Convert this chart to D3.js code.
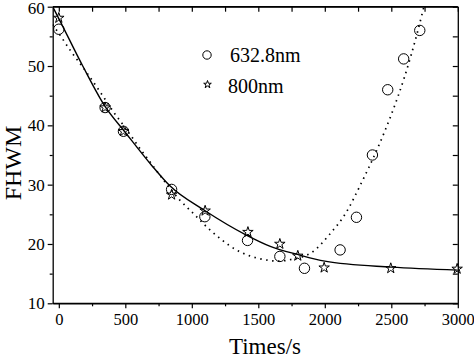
<!DOCTYPE html>
<html><head><meta charset="utf-8">
<script src="https://cdn.jsdelivr.net/npm/d3@7"></script>
<style>body{margin:0;background:#fff}svg{display:block}text{font-family:"Liberation Serif","Times New Roman",serif;fill:#000}</style>
</head><body><svg id="c" width="474" height="359"></svg>
<script>
// ---- data ----
const times632 = [0, 348, 486, 848, 1098, 1419, 1662, 1847, 2115, 2238, 2358, 2473, 2593, 2714];
const fwhm632  = [56.2, 43.0, 39.0, 29.2, 24.6, 20.6, 17.9, 15.9, 19.0, 24.5, 35.0, 46.0, 51.2, 56.0];
const times800 = [0, 348, 486, 848, 1100, 1422, 1662, 1797, 1995, 2496, 2995];
const fwhm800  = [58.1, 43.0, 39.0, 28.3, 25.6, 22.0, 20.0, 18.0, 16.0, 15.9, 15.8];
const fitSolidX = [-46, 0, 180, 350, 500, 700, 835, 1100, 1410, 1590, 1800, 2000, 2500, 3000];
const fitSolidY = [60.0, 58.0, 50.0, 43.1, 38.8, 33.2, 29.8, 25.6, 21.5, 19.6, 18.2, 17.1, 16.1, 15.6];
const fitDotX = [-46, 0, 100, 200, 300, 410, 500, 600, 700, 800, 910, 1000, 1135, 1225, 1335, 1435, 1560, 1650, 1750, 1910, 2035, 2160, 2275, 2400, 2500, 2600, 2700, 2745];
const fitDotY = [57.0, 55.5, 52.2, 49.2, 46.0, 42.3, 39.6, 36.4, 33.4, 30.4, 27.4, 25.4, 22.4, 20.7, 19.0, 18.0, 17.3, 17.1, 17.4, 18.7, 21.6, 25.3, 30.3, 36.3, 41.8, 48.2, 56.0, 60.0];
const xTicks = [0, 500, 1000, 1500, 2000, 2500, 3000];
const yTicks = [10, 20, 30, 40, 50, 60];
const legendLabels = ["632.8nm", "800nm"];
const xTitle = "Times/s", yTitle = "FHWM";

// ---- layout ----
const L = 52.7, R = 457.8, T = 6.7, B = 303.3;
const x = d3.scaleLinear().domain([-46, 3000]).range([L, R]);
const y = d3.scaleLinear().domain([10, 60]).range([B, T]);
const svg = d3.select("#c");

svg.append("clipPath").attr("id","clip").append("rect").attr("x",L).attr("y",T).attr("width",R-L).attr("height",B-T);

const xMinor = d3.range(250, 3000, 500);
const yMinor = d3.range(15, 60, 10);

function axis(gen, tr){ const g = svg.append("g").attr("transform", tr).call(gen);
  g.selectAll("path").attr("stroke","#000").attr("stroke-width",1.3);
  g.selectAll("line").attr("stroke","#000").attr("stroke-width",1.2);
  return g; }

// bottom
const gb = axis(d3.axisBottom(x).tickValues(xTicks).tickSize(5).tickSizeOuter(0).tickPadding(5).tickFormat(d3.format("d")), `translate(0,${B})`);
gb.selectAll("text").attr("font-size",16.5);
axis(d3.axisBottom(x).tickValues(xMinor).tickSize(3).tickSizeOuter(0).tickFormat(""), `translate(0,${B})`).select("path").remove();
// top
axis(d3.axisBottom(x).tickValues(xTicks.concat(xMinor)).tickSize(5).tickSizeOuter(0).tickFormat(""), `translate(0,${T})`);
// left
const gl = axis(d3.axisLeft(y).tickValues(yTicks).tickSize(5).tickSizeOuter(0).tickPadding(3).tickFormat(d3.format("d")), `translate(${L},0)`);
gl.selectAll("text").attr("font-size",17);
gl.selectAll(".tick").filter(d=>d===60).select("text").attr("dy","0.4em");
axis(d3.axisLeft(y).tickValues(yMinor).tickSize(3).tickSizeOuter(0).tickFormat(""), `translate(${L},0)`).select("path").remove();
// right
axis(d3.axisLeft(y).tickValues(yTicks.concat(yMinor)).tickSize(5).tickSizeOuter(0).tickFormat(""), `translate(${R},0)`);
svg.append("line").attr("x1",L).attr("x2",R).attr("y1",T).attr("y2",T).attr("stroke","#000").attr("stroke-width",1.3);
svg.append("line").attr("x1",L).attr("x2",R).attr("y1",B).attr("y2",B).attr("stroke","#000").attr("stroke-width",1.3);

// ---- curves ----
const plot = svg.append("g").attr("clip-path","url(#clip)");
const line = d3.line().x(d=>x(d[0])).y(d=>y(d[1])).curve(d3.curveMonotoneX);
plot.append("path").datum(fitSolidX.map((v,i)=>[v,fitSolidY[i]])).attr("d",line)
  .attr("fill","none").attr("stroke","#000").attr("stroke-width",1.4);
plot.append("path").datum(fitDotX.map((v,i)=>[v,fitDotY[i]])).attr("d",line)
  .attr("fill","none").attr("stroke","#000").attr("stroke-width",1.7).attr("stroke-dasharray","1.5 4.5");

// ---- markers ----
const star = d3.symbol().type(d3.symbolStar);
svg.append("g").selectAll("circle").data(times632).join("circle")
  .attr("cx",d=>x(d)).attr("cy",(d,i)=>y(fwhm632[i])).attr("r",5.2)
  .attr("fill","none").attr("stroke","#000").attr("stroke-width",1);
svg.append("g").selectAll("path").data(times800).join("path")
  .attr("transform",(d,i)=>`translate(${x(d)},${y(fwhm800[i])})`).attr("d",star.size(34)())
  .attr("fill","none").attr("stroke","#000").attr("stroke-width",1);

// ---- legend ----
svg.append("circle").attr("cx",207).attr("cy",55).attr("r",4.2).attr("fill","none").attr("stroke","#000").attr("stroke-width",1);
svg.append("text").attr("x",230).attr("y",61.5).attr("font-size",20).text(legendLabels[0]);
svg.append("path").attr("transform","translate(207.5,84.5)").attr("d",d3.symbol().type(d3.symbolStar).size(18)())
  .attr("fill","none").attr("stroke","#000").attr("stroke-width",1);
svg.append("text").attr("x",228).attr("y",92.5).attr("font-size",20).text(legendLabels[1]);

// ---- titles ----
svg.append("text").attr("x",265).attr("y",354).attr("text-anchor","middle").attr("font-size",23).text(xTitle);
svg.append("text").attr("transform","translate(21,163) rotate(-90)").attr("text-anchor","middle").attr("font-size",24).text(yTitle);
</script></body></html>
